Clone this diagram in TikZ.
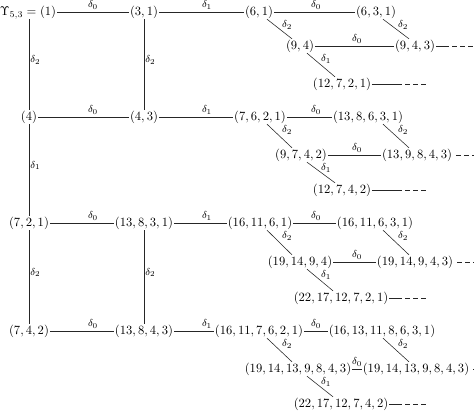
\documentclass[tikz,border=0pt]{standalone}
\usetikzlibrary{calc}
\begin{document}
\begin{tikzpicture}[x=0.794pt,y=-0.794pt,
  nd/.style={inner sep=0.5pt, text height=7.5pt, text depth=2.5pt},
  lab/.style={inner sep=0.8pt, font=\footnotesize},
  ln/.style={line width=0.45pt, draw=black!85},
  dsh/.style={ln, dash pattern=on 4pt off 2.4pt, dash phase=4pt}]
\useasboundingbox (0,0) rectangle (474,411);
\clip (0,0) rectangle (474,411);
% ---------- row 1
\node[nd, anchor=east] (r1a) at (57,12) {$\Upsilon_{5,3}=(1)$};
\node[nd] (r1b) at (144,12) {$(3,1)$};
\node[nd] (r1c) at (259,12) {$(6,1)$};
\node[nd] (r1d) at (376,12) {$(6,3,1)$};
\node[nd] (s1a) at (300,46) {$(9,4)$};
\node[nd] (s1b) at (415,46) {$(9,4,3)$};
\node[nd] (t1) at (342,84) {$(12,7,2,1)$};
% ---------- row 2
\node[nd] (r2a) at (29,117) {$(4)$};
\node[nd] (r2b) at (144,117) {$(4,3)$};
\node[nd] (r2c) at (260,117) {$(7,6,2,1)$};
\node[nd] (r2d) at (368,117) {$(13,8,6,3,1)$};
\node[nd] (s2a) at (301,155) {$(9,7,4,2)$};
\node[nd] (s2b) at (417,155) {$(13,9,8,4,3)$};
\node[nd] (t2) at (342,190) {$(12,7,4,2)$};
% ---------- row 3
\node[nd] (r3a) at (29,223) {$(7,2,1)$};
\node[nd] (r3b) at (144,223) {$(13,8,3,1)$};
\node[nd] (r3c) at (260,223) {$(16,11,6,1)$};
\node[nd] (r3d) at (375,223) {$(16,11,6,3,1)$};
\node[nd] (s3a) at (300,262) {$(19,14,9,4)$};
\node[nd] (s3b) at (415,262) {$(19,14,9,4,3)$};
\node[nd] (t3) at (341,298) {$(22,17,12,7,2,1)$};
% ---------- row 4
\node[nd] (r4a) at (29,331) {$(7,4,2)$};
\node[nd] (r4b) at (144,331) {$(13,8,4,3)$};
\node[nd] (r4c) at (259,331) {$(16,11,7,6,2,1)$};
\node[nd] (r4d) at (382,331) {$(16,13,11,8,6,3,1)$};
\node[nd] (s4a) at (298,369) {$(19,14,13,9,8,4,3)$};
\node[nd] (s4b) at (416,369) {$(19,14,13,9,8,4,3)$};
\node[nd] (t4) at (341,404) {$(22,17,12,7,4,2)$};

% ---------- horizontal connectors
\foreach \i in {1,2,3,4}{
  \draw[ln] (r\i a.east) -- (r\i b.west);
  \draw[ln] (r\i b.east) -- (r\i c.west);
  \draw[ln] (r\i c.east) -- (r\i d.west);
  \draw[ln] (s\i a.east) -- (s\i b.west);
}
% horizontal labels
\foreach \i/\y/\ys in {1/12/46,2/117/155,3/223/262,4/331/369}{
  \node[lab, anchor=south] (la\i) at (93,\y-1.5) {$\delta_0$};
  \node[lab, anchor=south] (lb\i) at (207,\y-1.5) {$\delta_1$};
  \node[lab, anchor=south] (lc\i) at (316,\y-1.5) {$\delta_0$};
  \node[lab, anchor=south] (ld\i) at (357,\ys-1.5) {$\delta_0$};
}

% ---------- vertical connectors
\draw[ln] (r2a.north |- r1a.south) -- node[lab, right, pos=0.45] (v1) {$\delta_2$} (r2a.north);
\draw[ln] (r1b.south) -- node[lab, right, pos=0.45] (v2) {$\delta_2$} (r2b.north);
\draw[ln] (r2a.south) -- node[lab, right, pos=0.45] (v3) {$\delta_1$} (r3a.north);
\draw[ln] (r3a.south) -- node[lab, right, pos=0.45] (v4) {$\delta_2$} (r4a.north);
\draw[ln] (r3b.south) -- node[lab, right, pos=0.45] (v5) {$\delta_2$} (r4b.north);

% ---------- diagonals column 3 -> branch
\draw[ln] ($(r1c.south)+(8,0)$) -- ($(s1a.north)+(-8,0)$);
\draw[ln] ($(r2c.south)+(7,0)$) -- ($(s2a.north)+(-9,0)$);
\draw[ln] ($(r3c.south)+(7,0)$) -- ($(s3a.north)+(-8,0)$);
\draw[ln] ($(r4c.south)+(8,0)$) -- ($(s4a.north)+(-6,0)$);
% branch -> lower
\draw[ln] ($(s1a.south)+(7,0)$) -- ($(t1.north)+(-7,0)$);
\draw[ln] ($(s2a.south)+(6,0)$) -- ($(t2.north)+(-7,0)$);
\draw[ln] ($(s3a.south)+(7,0)$) -- ($(t3.north)+(-8,0)$);
\draw[ln] ($(s4a.south)+(9,0)$) -- ($(t4.north)+(-8,0)$);
% column 4 -> branch
\draw[ln] ($(r1d.south)+(7,0)$) -- ($(s1b.north)+(-6,0)$);
\draw[ln] ($(r2d.south)+(15,0)$) -- ($(s2b.north)+(-8,0)$);
\draw[ln] ($(r3d.south)+(8,0)$) -- ($(s3b.north)+(-6,0)$);
\draw[ln] ($(r4d.south)+(1,0)$) -- ($(s4b.north)+(-7,0)$);
% diagonal labels
\foreach \i/\y/\ys in {1/12/46,2/117/155,3/223/262,4/331/369}{
  \node[lab] (dA\i) at (287,\y+13) {$\delta_2$};
  \node[lab] (dB\i) at (326,\ys+13) {$\delta_1$};
  \node[lab] (dC\i) at (403,\y+13) {$\delta_2$};
}

% ---------- trailing lines
\coordinate (e1) at (449,46);
\coordinate (f1) at (485,46);
\coordinate (f2) at (485,155);
\coordinate (f3) at (485,262);
\coordinate (f4) at (485,369);
\draw[ln] (s1b.east) -- (e1);
\draw[dsh] (e1) -- (f1);
\draw[dsh] (s2b.east) -- (f2);
\draw[dsh] (s3b.east) -- (f3);
\draw[dsh] (s4b.east) -- (f4);
\foreach \i/\y in {1/84,2/190,3/298,4/404}{
  \coordinate (g\i) at (402,\y);
  \coordinate (h\i) at (427,\y);
  \draw[ln] (t\i.east) -- (g\i);
  \draw[dsh] (g\i) -- (h\i);
}
\end{tikzpicture}
\end{document}
